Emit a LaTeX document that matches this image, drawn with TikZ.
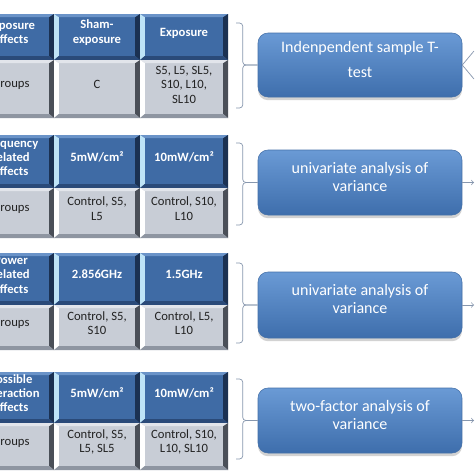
\documentclass[tikz,border=0pt]{standalone}
\usepackage{fontspec}
\setmainfont{Carlito}
\usepackage{tikz}
\usetikzlibrary{arrows,positioning,calc,fit,shadows}

\definecolor{hFace}{HTML}{3F6BA5}
\definecolor{hTop}{HTML}{6A93C8}
\definecolor{hLeft}{HTML}{BFE4F7}
\definecolor{hRight}{HTML}{1B3152}
\definecolor{hBot}{HTML}{2A4A79}
\definecolor{dFace}{HTML}{C8CDD6}
\definecolor{dTop}{HTML}{E2E5EB}
\definecolor{dLeft}{HTML}{FFFFFF}
\definecolor{dRight}{HTML}{4A4F58}
\definecolor{dBot}{HTML}{8E95A1}
\definecolor{dText}{HTML}{222222}
\definecolor{bTop}{HTML}{6A9AD5}
\definecolor{bBot}{HTML}{3E6EAC}
\definecolor{bEdge}{HTML}{4470A8}
\definecolor{lnCol}{HTML}{8797AE}

\tikzset{
  bevel/.style n args={4}{path picture={
    \coordinate (pNW) at (path picture bounding box.north west);
    \coordinate (pNE) at (path picture bounding box.north east);
    \coordinate (pSW) at (path picture bounding box.south west);
    \coordinate (pSE) at (path picture bounding box.south east);
    \fill[#1] (pNW) -- (pNE) -- ([shift={(-1.2mm,-0.8mm)}]pNE) -- ([shift={(1.2mm,-0.8mm)}]pNW) -- cycle;
    \fill[#2] (pNW) -- (pSW) -- ([shift={(1.2mm,1mm)}]pSW) -- ([shift={(1.2mm,-0.8mm)}]pNW) -- cycle;
    \fill[#3] (pNE) -- (pSE) -- ([shift={(-1.2mm,1mm)}]pSE) -- ([shift={(-1.2mm,-0.8mm)}]pNE) -- cycle;
    \fill[#4] (pSW) -- (pSE) -- ([shift={(-1.2mm,1mm)}]pSE) -- ([shift={(1.2mm,1mm)}]pSW) -- cycle;
  }},
  hcell/.style={inner sep=0pt, fill=hFace, text=white, align=center,
    font=\bfseries\fontsize{9}{10}\selectfont, bevel={hTop}{hLeft}{hRight}{hBot}},
  dcell/.style={inner sep=0pt, fill=dFace, text=dText, align=center,
    font=\fontsize{9}{10.2}\selectfont, bevel={dTop}{dLeft}{dRight}{dBot}},
  testbox/.style={inner sep=0pt, rounded corners=2.5mm, top color=bTop, bottom color=bBot,
    draw=bEdge, text=white, align=center, font=\fontsize{11.4}{12.8}\selectfont,
    drop shadow={opacity=0.35, shadow xshift=0mm, shadow yshift=-0.8mm}},
  brk/.style={draw=lnCol, rounded corners=0.8mm, line width=0.5pt},
  link/.style={draw=lnCol, line width=0.5pt},
}

\begin{document}
\begin{tikzpicture}[x=0.25mm, y=-0.25mm]
  \fill[white] (0,0) rectangle (474,474);
  \clip (0,0) rectangle (474,474);

  % 表
  \foreach \g/\ya/\yb/\yc/\hA/\hB/\hC/\dB/\dC in {
      1/14/60/118/{Exposure\\effects}/{Sham-\\exposure}/{Exposure}/{C}/{S5, L5, SL5,\\S10, L10,\\SL10},
      2/135/188/238/{Frequency\\related\\effects}/{5mW/cm²}/{10mW/cm²}/{Control, S5,\\L5}/{Control, S10,\\L10},
      3/253/305/350/{Power\\related\\effects}/{2.856GHz}/{1.5GHz}/{Control, S5,\\S10}/{Control, L5,\\L10},
      4/372/423/470/{Possible\\interaction\\effects}/{5mW/cm²}/{10mW/cm²}/{Control, S5,\\L5, SL5}/{Control, S10,\\L10, SL10}} {
    \node[hcell, fit={(-32,\ya) (54,\yb)}] (h\g-a) {\hA};
    \node[hcell, fit={(54,\ya) (140,\yb)}] (h\g-b) {\hB};
    \node[hcell, fit={(140,\ya) (228,\yb)}] (h\g-c) {\hC};
    \node[dcell, fit={(-32,\yb) (54,\yc)}] (d\g-a) {Groups};
    \node[dcell, fit={(54,\yb) (140,\yc)}] (d\g-b) {\dB};
    \node[dcell, fit={(140,\yb) (228,\yc)}] (d\g-c) {\dC};
  }

  % 検定のボックスと括弧
  \foreach \g/\ya/\yb/\ka/\kb/\txt in {
      1/33/97/23/108/{Indenpendent sample T-\\[5.5pt]test},
      2/150/215/143/225/{univariate analysis of\\variance},
      3/272/338/263/343/{univariate analysis of\\variance},
      4/388/453/379/459/{two-factor analysis of\\variance}} {
    \node[testbox, fit={(258,\ya) (462,\yb)}] (box\g) {\txt};
    \coordinate (k\g-t) at (236,\ka);
    \coordinate (k\g-b) at (236,\kb);
    \draw[brk] (k\g-t) -| ($(box\g.west)+(-15,0)$) -- (box\g.west);
    \draw[brk] (k\g-b) -| ($(box\g.west)+(-15,0)$) -- (box\g.west);
  }

  % 右側
  \coordinate (r1a) at (474,51);
  \coordinate (r1b) at (474,79);
  \draw[link] (box1.east) -- (r1a);
  \draw[link] (box1.east) -- (r1b);
  \foreach \g in {2,3,4}
    \draw[link, ->] (box\g.east) -- (box\g.east -| r1a);
\end{tikzpicture}
\end{document}
